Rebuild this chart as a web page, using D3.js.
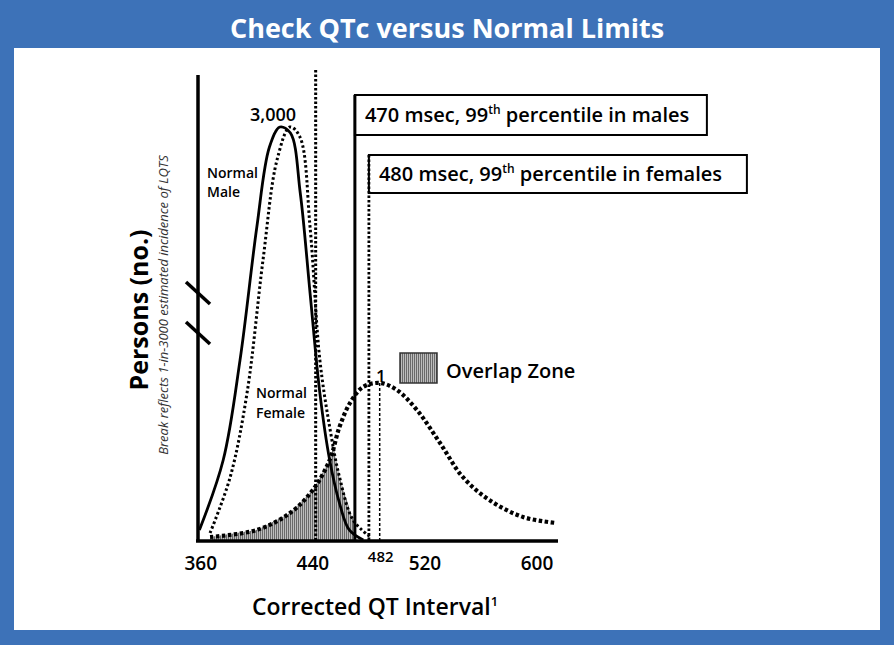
<!DOCTYPE html>
<html><head><meta charset="utf-8">
<script src="https://cdn.jsdelivr.net/npm/d3@7"></script>
<style>body{margin:0;background:#fff}</style>
</head><body>
<svg width="894" height="645"></svg>
<script>
// curves: QTc (msec) vs persons
const maleX = [359, 376, 388, 400, 409, 416.5, 424, 431, 438, 445, 452, 459, 466, 476];
const maleY = [80, 587, 1311, 2275, 2855, 3000, 2956, 2522, 1797, 1072, 587, 275, 80, 7];
const femaleX = [366.6, 381, 393, 404.4, 414.4, 423.7, 430.8, 438, 445, 452, 459, 468.7, 481];
const femaleY = [58, 464, 1072, 2036, 2761, 3000, 2927, 2275, 1311, 826, 464, 152, 29];
const lqtsX = [366.6, 400, 423.7, 440, 452, 459, 466.5, 475.8, 488, 500, 514.3, 530.8, 547, 566, 590, 614];
const lqtsY = [29, 80, 203, 370, 587, 826, 1000, 1116, 1145, 1094, 949, 710, 464, 297, 174, 130];
const ticks = [360, 440, 520, 600];
const limits = [
  {v: 470, label: "470 msec, 99", sup: "th", rest: " percentile in males"},
  {v: 480, label: "480 msec, 99", sup: "th", rest: " percentile in females"}
];

const svg = d3.select("svg");
const blue = "#3d72b8";
svg.append("rect").attr("width", 894).attr("height", 645).attr("fill", blue);
svg.append("rect").attr("x", 14).attr("y", 48).attr("width", 866).attr("height", 582).attr("fill", "#fff");
svg.append("text").attr("x", 447).attr("y", 38).attr("text-anchor", "middle")
  .attr("fill", "#fff").attr("font-family", "Open Sans").attr("font-weight", 700)
  .attr("font-size", 27).text("Check QTc versus Normal Limits");

const x = d3.scaleLinear().domain([358, 615]).range([198, 558]);
const y = d3.scaleLinear().domain([0, 3000]).range([541, 127]);
const font = "Open Sans";

const defs = svg.append("defs");
const pat = defs.append("pattern").attr("id", "hatch").attr("patternUnits", "userSpaceOnUse")
  .attr("width", 2).attr("height", 4);
pat.append("rect").attr("width", 2).attr("height", 4).attr("fill", "#bdbdbd");
pat.append("rect").attr("width", 1).attr("height", 4).attr("fill", "#6a6a6a");

const interp = (xs, ys) => v => {
  if (v <= xs[0] || v >= xs[xs.length - 1]) return 0;
  const i = d3.bisectRight(xs, v) - 1;
  const t = (v - xs[i]) / (xs[i + 1] - xs[i]);
  return ys[i] + t * (ys[i + 1] - ys[i]);
};
const fF = interp(femaleX, femaleY), fL = interp(lqtsX, lqtsY);
const overlap = d3.range(366.6, 470.01, 0.5).map(v => [v, Math.min(fF(v), fL(v))]);
svg.append("path").datum(overlap).attr("fill", "url(#hatch)")
  .attr("d", d3.area().x(d => x(d[0])).y0(y(0)).y1(d => y(d[1])).curve(d3.curveBasis));

const line = d3.line().x(d => x(d[0])).y(d => y(d[1])).curve(d3.curveCatmullRom);
svg.append("path").datum(d3.zip(maleX, maleY)).attr("d", line)
  .attr("fill", "none").attr("stroke", "#000").attr("stroke-width", 2.8);
svg.append("path").datum(d3.zip(femaleX, femaleY)).attr("d", line)
  .attr("fill", "none").attr("stroke", "#000").attr("stroke-width", 3).attr("stroke-dasharray", "2.5 2.5");
svg.append("path").datum(d3.zip(lqtsX, lqtsY)).attr("d", line)
  .attr("fill", "none").attr("stroke", "#000").attr("stroke-width", 4.2).attr("stroke-dasharray", "3.5 2.5");

// vertical reference lines
svg.append("line").attr("x1", x(442)).attr("x2", x(442)).attr("y1", 70).attr("y2", 541)
  .attr("stroke", "#000").attr("stroke-width", 3).attr("stroke-dasharray", "2.5 2");
svg.append("line").attr("x1", x(482) + 8).attr("x2", x(482) + 8).attr("y1", 383).attr("y2", 541)
  .attr("stroke", "#000").attr("stroke-width", 1.5).attr("stroke-dasharray", "3 2");

const boxes = [{y: 95, h: 40, w: 352, dash: null, sw: 3},
               {y: 155, h: 38, w: 378, dash: "2.5 2", sw: 2.8}];
limits.forEach((d, i) => {
  const b = boxes[i], bx = x(d.v);
  svg.append("rect").attr("x", bx).attr("y", b.y).attr("width", b.w).attr("height", b.h)
    .attr("fill", "#fff").attr("stroke", "#000").attr("stroke-width", 2);
  svg.append("line").attr("x1", bx).attr("x2", bx).attr("y1", b.y).attr("y2", 541)
    .attr("stroke", "#000").attr("stroke-width", b.sw).attr("stroke-dasharray", b.dash);
  const t = svg.append("text").attr("x", bx + 10).attr("y", b.y + b.h / 2 + 7)
    .attr("font-family", font).attr("font-size", 20).attr("font-weight", 600);
  t.append("tspan").text(d.label);
  t.append("tspan").attr("dy", -8).attr("font-size", 12).text(d.sup);
  t.append("tspan").attr("dy", 8).text(d.rest);
});

// axes
svg.append("line").attr("x1", 198).attr("x2", 198).attr("y1", 75).attr("y2", 542)
  .attr("stroke", "#000").attr("stroke-width", 3.5);
svg.append("line").attr("x1", 196).attr("x2", x(615)).attr("y1", 541).attr("y2", 541)
  .attr("stroke", "#000").attr("stroke-width", 3.5);
[282, 322].forEach(yy => svg.append("line").attr("x1", 186).attr("x2", 210)
  .attr("y1", yy).attr("y2", yy + 22).attr("stroke", "#000").attr("stroke-width", 3.5));

svg.selectAll(".tick").data(ticks).join("text").attr("x", d => x(d)).attr("y", 570)
  .attr("text-anchor", "middle").attr("font-family", font).attr("font-size", 19)
  .attr("font-weight", 600).text(d => d);
svg.append("text").attr("x", x(482) + 9).attr("y", 562).attr("text-anchor", "middle")
  .attr("font-family", font).attr("font-size", 15).attr("font-weight", 600).text("482");

const xt = svg.append("text").attr("x", 375).attr("y", 615).attr("text-anchor", "middle")
  .attr("font-family", font).attr("font-size", 23).attr("font-weight", 600);
xt.append("tspan").text("Corrected QT Interval");
xt.append("tspan").attr("dy", -9).attr("font-size", 13).text("1");

svg.append("text").attr("transform", "translate(148,310) rotate(-90)").attr("text-anchor", "middle")
  .attr("font-family", font).attr("font-size", 25).attr("font-weight", 700).text("Persons (no.)");
svg.append("text").attr("transform", "translate(168,305) rotate(-90)").attr("text-anchor", "middle")
  .attr("font-family", font).attr("font-size", 13).attr("font-style", "italic").attr("fill", "#333")
  .text("Break reflects 1-in-3000 estimated incidence of LQTS");

const label = (tx, ty, s, size, w) => svg.append("text").attr("x", tx).attr("y", ty)
  .attr("font-family", font).attr("font-size", size).attr("font-weight", w || 600).text(s);
label(250, 121, "3,000", 18);
label(207, 178, "Normal", 14);
label(207, 197, "Male", 14);
label(256, 398, "Normal", 14);
label(256, 418, "Female", 14);
label(376, 382, "1", 17);
svg.append("rect").attr("x", 400).attr("y", 353).attr("width", 37).attr("height", 30)
  .attr("fill", "url(#hatch)").attr("stroke", "#333").attr("stroke-width", 1.5);
label(446, 378, "Overlap Zone", 20);
</script>
</body></html>
